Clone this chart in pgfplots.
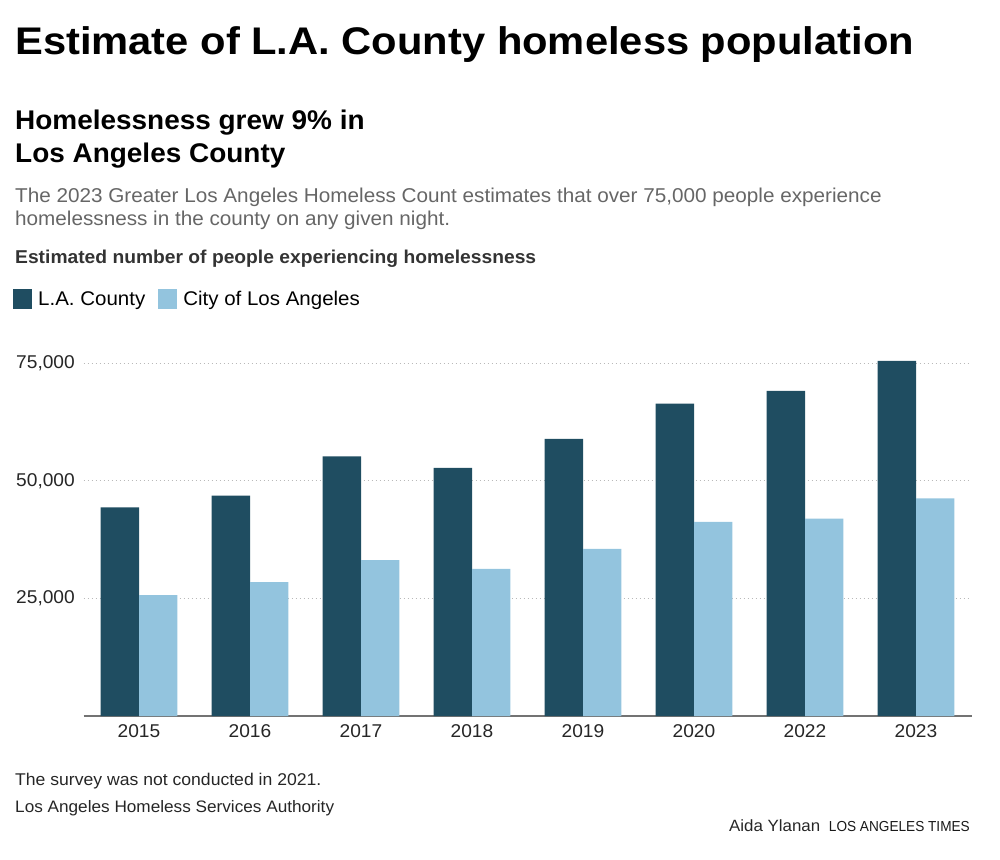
\documentclass[border=0pt]{standalone}
\usepackage{pgfplots}
\pgfplotsset{compat=1.18}
\usepackage{fontspec}
\setmainfont{Liberation Sans}[FakeStretch=1.035]
\newfontfamily\titlefont{Liberation Sans}[FakeStretch=1.083]
\newfontfamily\narrowfont{Liberation Sans}[FakeStretch=0.94]
\definecolor{dark}{HTML}{1F4D61}
\definecolor{light}{HTML}{93C4DE}
\definecolor{desc}{HTML}{666666}
\definecolor{lab}{HTML}{333333}
\begin{document}
\begin{tikzpicture}
\useasboundingbox (0,0) rectangle (1000pt,-859pt);
\node[anchor=base west, inner sep=0pt] at (15pt,-55pt) {\titlefont\fontsize{38.5}{40}\selectfont\bfseries Estimate of L.A. County homeless population};
\node[anchor=base west, inner sep=0pt] at (15pt,-129.3pt) {\fontsize{27}{30}\selectfont\bfseries Homelessness grew 9\% in};
\node[anchor=base west, inner sep=0pt] at (15pt,-162.5pt) {\fontsize{27}{30}\selectfont\bfseries Los Angeles County};
\node[anchor=base west, inner sep=0pt, text=desc] at (15pt,-202.7pt) {\fontsize{20}{22}\selectfont The 2023 Greater Los Angeles Homeless Count estimates that over 75,000 people experience};
\node[anchor=base west, inner sep=0pt, text=desc] at (15pt,-225pt) {\fontsize{20}{22}\selectfont homelessness in the county on any given night.};
\node[anchor=base west, inner sep=0pt, text=lab] at (15pt,-263.3pt) {\fontsize{18.6}{20}\selectfont\bfseries Estimated number of people experiencing homelessness};
\node[anchor=base west, inner sep=0pt, text=black!85] at (15pt,-785.7pt) {\fontsize{17}{19}\selectfont The survey was not conducted in 2021.};
\node[anchor=base west, inner sep=0pt, text=black!85] at (15pt,-812.3pt) {\fontsize{16.6}{19}\selectfont Los Angeles Homeless Services Authority};
\node[anchor=base west, inner sep=0pt, text=black!85] at (729pt,-831pt) {\fontsize{16.3}{17}\selectfont Aida Ylanan};
\node[anchor=base east, inner sep=0pt, text=black!90] at (970pt,-831pt) {\narrowfont\fontsize{14.5}{16}\selectfont LOS ANGELES TIMES};
\begin{axis}[
  at={(83.5pt,-716pt)}, anchor=south west,
  scale only axis, width=888pt, height=357.5pt,
  xmin=-0.5, xmax=7.5, ymin=0, ymax=76000,
  scaled y ticks=false,
  ybar=0pt, bar width=38.3pt,
  xtick={0,...,7}, xticklabels={2015,2016,2017,2018,2019,2020,2022,2023},
  ytick={25000,50000,75000}, yticklabels={{25,000},{50,000},{75,000}},
  major tick length=0pt,
  ymajorgrids, grid style={draw=gray!55, dash pattern=on 1.3pt off 2.7pt, line width=1.2pt},
  axis lines*=left,
  y axis line style={draw=none},
  x axis line style={draw=gray!90!black, line width=1.3pt},
  ticklabel style={font=\fontsize{18.5}{20}\selectfont, text=black!85},
  yticklabel style={inner sep=0pt, xshift=-8.5pt},
  xticklabel style={inner sep=0pt, yshift=-8pt},
  legend columns=2,
  legend cell align=left,
  legend style={at={(-0.0797,1.1944)}, anchor=north west, draw=none, fill=none,
    inner sep=0pt, outer sep=0pt,
    nodes={inner sep=0pt, text height=15pt, text depth=4.5pt, font=\fontsize{19.8}{22}\selectfont},
    /tikz/every odd column/.style={column sep=6pt},
    /tikz/every even column/.style={column sep=12.5pt}},
  legend image code/.code={\fill[#1] (0pt,-8.05pt) rectangle (19.5pt,11.45pt);},
]
\addplot[fill=dark, draw=none] coordinates {(0,44359) (1,46874) (2,55188) (3,52765) (4,58936) (5,66436) (6,69144) (7,75518)};
\addlegendentry{L.A. County}
\addplot[fill=light, draw=none] coordinates {(0,25686) (1,28464) (2,33138) (3,31285) (4,35550) (5,41290) (6,41980) (7,46260)};
\addlegendentry{City of Los Angeles}
\end{axis}
\end{tikzpicture}
\end{document}
